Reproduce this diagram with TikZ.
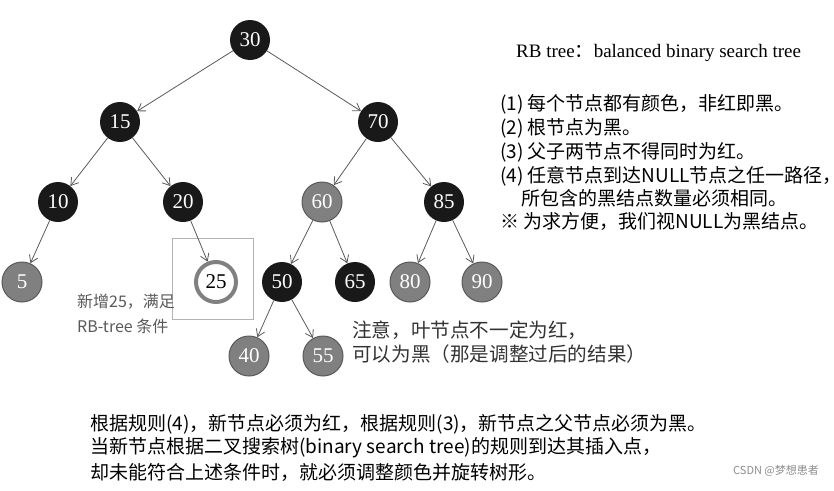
\documentclass[tikz,border=0pt]{standalone}
\usepackage{fontspec}
\setmainfont{Liberation Serif}
\newfontfamily\cjk{Noto Sans CJK SC}
\usetikzlibrary{arrows.meta}
\begin{document}
\begin{tikzpicture}[x=1pt,y=-1pt,
  nd/.style={circle,minimum size=40pt,inner sep=0pt,font=\fontsize{21}{21}\selectfont,text=white},
  blk/.style={nd,fill=black!90},
  red/.style={nd,fill=black!50,draw=black!65,line width=1pt},
  edge/.style={draw=black!65,line width=0.8pt,-{Straight Barb[length=7pt,width=9pt]}},
  txt/.style={anchor=west,font=\cjk\fontsize{19}{19}\selectfont,inner sep=0pt}]
\useasboundingbox (0,0) rectangle (834,490);
\node[blk] (n30) at (250,40) {30};
\node[blk] (n15) at (120,122) {15};
\node[blk] (n70) at (378,122) {70};
\node[blk] (n10) at (58,202) {10};
\node[blk] (n20) at (183,202) {20};
\node[red] (n60) at (322,202) {60};
\node[blk] (n85) at (444,202) {85};
\node[red] (n5) at (22,282) {5};
\node[nd,draw=black!50,line width=4pt,fill=white,text=black,minimum size=40pt] (n25) at (216,282) {25};
\node[blk] (n50) at (282,282) {50};
\node[blk] (n65) at (355,282) {65};
\node[red] (n80) at (410,282) {80};
\node[red] (n90) at (482,282) {90};
\node[red] (n40) at (249,356) {40};
\node[red] (n55) at (323,356) {55};
\node[draw=black!30,line width=0.6pt,minimum width=81pt,minimum height=81pt,inner sep=0pt] (box) at (212.5,278.5) {};
\foreach \a/\b in {n30/n15,n30/n70,n15/n10,n15/n20,n70/n60,n70/n85,n10/n5,n20/n25,n60/n50,n60/n65,n85/n80,n85/n90,n50/n40,n50/n55}
  \draw[edge] (\a) -- (\b);
\node[txt,text=black!65,font=\cjk\fontsize{16}{16}\selectfont] (t25) at (77,302) {新增25，满足};
\node[txt,text=black!65,font=\cjk\fontsize{16}{16}\selectfont] (t25b) at (77,326) {RB-tree 条件};
\node[txt,text=black!80,font=\cjk\fontsize{19.6}{19.6}\selectfont] (note1) at (352,330) {注意，叶节点不一定为红，};
\node[txt,text=black!80,font=\cjk\fontsize{19.6}{19.6}\selectfont] (note2) at (352,354) {可以为黑（那是调整过后的结果）};
\node[anchor=west,inner sep=0pt,font=\fontsize{19}{19}\selectfont] (title) at (516,53) {RB tree{\cjk ：}balanced binary search tree};
\node[txt] (r1) at (500,104) {(1) 每个节点都有颜色，非红即黑。};
\node[txt] (r2) at (500,128) {(2) 根节点为黑。};
\node[txt] (r3) at (500,152) {(3) 父子两节点不得同时为红。};
\node[txt] (r4) at (500,176) {(4) 任意节点到达NULL节点之任一路径，};
\node[txt] (r4b) at (521,198) {所包含的黑结点数量必须相同。};
\node[txt] (r5) at (500,221) {※ 为求方便，我们视NULL为黑结点。};
\node[txt] (b1) at (90,424) {根据规则(4)，新节点必须为红，根据规则(3)，新节点之父节点必须为黑。};
\node[txt] (b2) at (90,448) {当新节点根据二叉搜索树(binary search tree)的规则到达其插入点，};
\node[txt] (b3) at (90,472) {却未能符合上述条件时，就必须调整颜色并旋转树形。};
\node[anchor=west,inner sep=0pt,font=\cjk\fontsize{11}{11}\selectfont,text=black!45] (wm) at (733,471) {CSDN @梦想患者};
\end{tikzpicture}
\end{document}
